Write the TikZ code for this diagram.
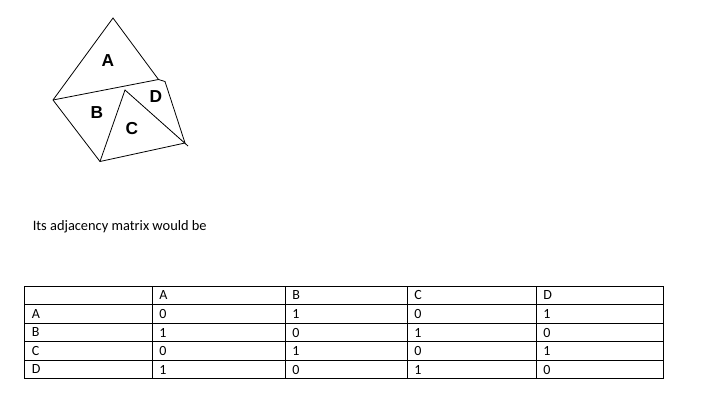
\documentclass[tikz,border=0pt]{standalone}
\usepackage{fontspec}
\setmainfont{Carlito}
\newfontfamily\arialfont{Liberation Sans}
\begin{document}
\begin{tikzpicture}[x=0.75pt,y=-0.75pt,
  region/.style={font=\arialfont\bfseries\fontsize{13}{15}\selectfont},
  cell/.style={anchor=west,inner sep=0pt,font=\fontsize{10.5}{12}\selectfont}]
\useasboundingbox (0,0) rectangle (705,403);
% corners of the four regions
\coordinate (top) at (113,18);
\coordinate (left) at (53,100);
\coordinate (mid) at (158.5,79.5);
\coordinate (notch) at (165,81.5);
\coordinate (right) at (185,143);
\coordinate (tail) at (188,146);
\coordinate (bottom) at (100,161.5);
\coordinate (apex) at (125,90);
\begin{scope}[line width=0.6pt]
\draw (left) -- (top) -- (mid);
\draw (left) -- (mid) -- (notch) -- (right);
\draw (left) -- (bottom) -- (right);
\draw (bottom) -- (apex) -- (tail);
\end{scope}
\node[region] (A) at (108,61) {A};
\node[region] (B) at (97,113) {B};
\node[region] (C) at (132,128.5) {C};
\node[region] (D) at (156,96.5) {D};
\node[anchor=west,inner sep=0pt,font=\fontsize{10.8}{12}\selectfont] (caption) at (32.5,227) {Its adjacency matrix would be};
% the matrix
\begin{scope}[line width=0.75pt]
\foreach \x in {24,152,285,407,536,663} % edit here for the columns
\draw (\x,286) -- (\x,378.5);
\foreach \y in {286,304.5,323,341.5,360,378.5} % edit here for the rows
\draw (24,\y) -- (663,\y);
\end{scope}
\foreach \lab/\x in {A/152,B/285,C/407,D/536} % edit here for the head
\node[cell] (col-\lab) at (\x+7,295.5) {\lab};
\foreach \lab/\y/\a/\b/\c/\d in {A/314/0/1/0/1,B/332.5/1/0/1/0,C/351/0/1/0/1,D/369.5/1/0/1/0} {
\node[cell] (row-\lab) at (31.5,\y) {\lab};
\node[cell] (\lab-A) at (159,\y) {\a};
\node[cell] (\lab-B) at (292,\y) {\b};
\node[cell] (\lab-C) at (414,\y) {\c};
\node[cell] (\lab-D) at (543,\y) {\d};
}
\end{tikzpicture}
\end{document}
